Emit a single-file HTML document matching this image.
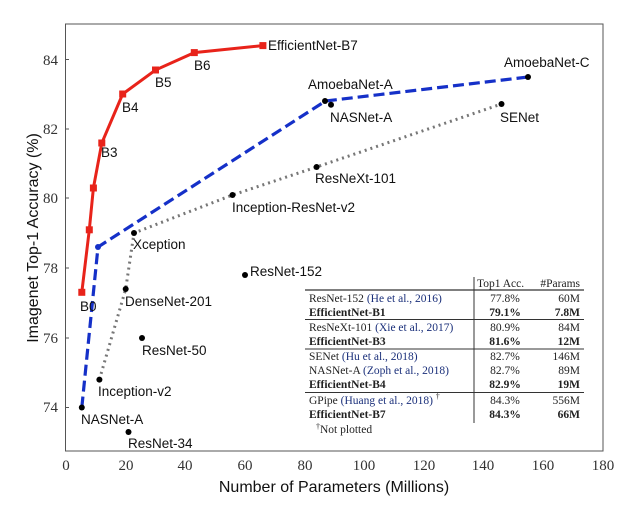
<!DOCTYPE html>
<html><head><meta charset="utf-8"><style>
body{margin:0;background:#fff;}
svg text{font-family:"Liberation Sans",sans-serif;}
svg .s text, svg .s tspan{font-family:"Liberation Serif",serif;font-size:11.5px;fill:#222}
svg .s .b{font-weight:bold}
svg .s .c{fill:#1a2f7a}
svg .t text{font-family:"Liberation Serif",serif;font-size:15px;fill:#333}
svg .l text{font-size:13.5px;fill:#111}
</style></head><body>
<svg width="631" height="502" viewBox="0 0 631 502" xmlns="http://www.w3.org/2000/svg">
<rect x="65.5" y="24" width="537.5" height="427" fill="none" stroke="#555" stroke-width="1"/>
<g class="t" text-anchor="end">
<text x="58" y="65">84</text><text x="58" y="134">82</text><text x="58" y="203">80</text>
<text x="58" y="273">78</text><text x="58" y="343">76</text><text x="58" y="412">74</text>
</g>
<g stroke="#555"><line x1="65.5" y1="59.5" x2="69" y2="59.5"/><line x1="65.5" y1="129" x2="69" y2="129"/><line x1="65.5" y1="198" x2="69" y2="198"/><line x1="65.5" y1="268" x2="69" y2="268"/><line x1="65.5" y1="338" x2="69" y2="338"/><line x1="65.5" y1="407.5" x2="69" y2="407.5"/></g>
<g class="t" text-anchor="middle">
<text x="66" y="470">0</text><text x="126" y="470">20</text><text x="185" y="470">40</text><text x="245" y="470">60</text><text x="305" y="470">80</text><text x="364" y="470">100</text><text x="424" y="470">120</text><text x="483" y="470">140</text><text x="543" y="470">160</text><text x="603" y="470">180</text>
</g>
<text x="334" y="492" font-size="16" text-anchor="middle" fill="#111">Number of Parameters (Millions)</text>
<text transform="translate(38,238) rotate(-90)" font-size="16" text-anchor="middle" fill="#111">Imagenet Top-1 Accuracy (%)</text>
<polyline points="99.4,379.6 125.7,289 134,233 232.5,195 316.6,167 501.5,104" fill="none" stroke="#777" stroke-width="3" stroke-dasharray="2,4"/>
<polyline points="81.8,407.5 98,247 325.5,101 528,77" fill="none" stroke="#1530c8" stroke-width="3.2" stroke-dasharray="11,5"/>
<polyline points="81.8,292.3 89.3,229.8 93.4,188 101.8,143 122.7,94 155.5,70 194.3,52.6 262.9,45.6" fill="none" stroke="#e8231a" stroke-width="3"/>
<g fill="#e8231a">
<rect x="78.3" y="288.8" width="7" height="7"/><rect x="85.8" y="226.3" width="7" height="7"/><rect x="89.9" y="184.5" width="7" height="7"/><rect x="98.3" y="139.5" width="7" height="7"/><rect x="119.2" y="90.5" width="7" height="7"/><rect x="152" y="66.5" width="7" height="7"/><rect x="190.8" y="49.1" width="7" height="7"/><rect x="259.4" y="42.1" width="7" height="7"/>
</g>
<g fill="#000">
<circle cx="81.8" cy="407.5" r="3"/><circle cx="98" cy="247" r="3" fill="#1530c8"/><circle cx="325" cy="101" r="3"/><circle cx="528" cy="77" r="3"/>
<circle cx="99.4" cy="379.6" r="3"/><circle cx="125.7" cy="289" r="3"/><circle cx="134" cy="233" r="3"/><circle cx="232.5" cy="195" r="3"/><circle cx="316.6" cy="167" r="3"/><circle cx="501.5" cy="104" r="3"/>
<circle cx="331" cy="104.7" r="3"/><circle cx="245" cy="275" r="3"/><circle cx="142" cy="338" r="3"/><circle cx="128.5" cy="432" r="3"/>
</g>
<g class="l">
<text x="268" y="50">EfficientNet-B7</text>
<text x="194" y="70">B6</text><text x="155" y="87">B5</text><text x="122" y="112">B4</text><text x="101" y="157">B3</text><text x="80" y="311">B0</text>
<text x="308" y="89">AmoebaNet-A</text><text x="504" y="67">AmoebaNet-C</text>
<text x="330" y="122">NASNet-A</text><text x="500" y="122">SENet</text>
<text x="315" y="183">ResNeXt-101</text><text x="232" y="212">Inception-ResNet-v2</text>
<text x="133" y="249">Xception</text><text x="250" y="276">ResNet-152</text>
<text x="125" y="306">DenseNet-201</text><text x="142" y="355">ResNet-50</text>
<text x="98" y="396">Inception-v2</text><text x="81" y="424">NASNet-A</text><text x="128" y="448">ResNet-34</text>
</g>
<g stroke="#333" stroke-width="1">
<line x1="474" y1="277" x2="474" y2="423"/>
<line x1="305" y1="290" x2="584" y2="290" stroke-width="1.3"/>
<line x1="305" y1="319.5" x2="584" y2="319.5"/>
<line x1="305" y1="349" x2="584" y2="349"/>
<line x1="305" y1="392.5" x2="584" y2="392.5"/>
</g>
<g class="s">
<text x="477" y="287">Top1 Acc.</text><text x="580" y="287" text-anchor="end">#Params</text>
<text x="309" y="302">ResNet-152 <tspan class="c">(He et al., 2016)</tspan></text>
<text x="309" y="316" class="b">EfficientNet-B1</text>
<text x="309" y="331">ResNeXt-101 <tspan class="c">(Xie et al., 2017)</tspan></text>
<text x="309" y="345" class="b">EfficientNet-B3</text>
<text x="309" y="360">SENet <tspan class="c">(Hu et al., 2018)</tspan></text>
<text x="309" y="374">NASNet-A <tspan class="c">(Zoph et al., 2018)</tspan></text>
<text x="309" y="388" class="b">EfficientNet-B4</text>
<text x="309" y="404">GPipe <tspan class="c">(Huang et al., 2018)</tspan> <tspan style="font-size:8px" dy="-5">†</tspan></text>
<text x="309" y="418" class="b">EfficientNet-B7</text>
<text x="316" y="433"><tspan style="font-size:8px" dy="-4">†</tspan><tspan dy="4">Not plotted</tspan></text>
</g>
<g class="s" text-anchor="middle">
<text x="505" y="302">77.8%</text><text x="505" y="316" class="b">79.1%</text>
<text x="505" y="331">80.9%</text><text x="505" y="345" class="b">81.6%</text>
<text x="505" y="360">82.7%</text><text x="505" y="374">82.7%</text><text x="505" y="388" class="b">82.9%</text>
<text x="505" y="404">84.3%</text><text x="505" y="418" class="b">84.3%</text>
</g>
<g class="s" text-anchor="end">
<text x="580" y="302">60M</text><text x="580" y="316" class="b">7.8M</text>
<text x="580" y="331">84M</text><text x="580" y="345" class="b">12M</text>
<text x="580" y="360">146M</text><text x="580" y="374">89M</text><text x="580" y="388" class="b">19M</text>
<text x="580" y="404">556M</text><text x="580" y="418" class="b">66M</text>
</g>
</svg>
</body></html>
